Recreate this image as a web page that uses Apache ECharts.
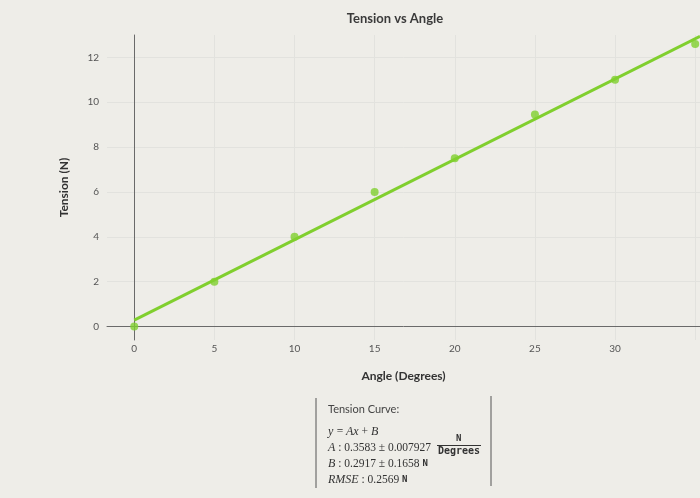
<!DOCTYPE html>
<html>
<head>
<meta charset="utf-8">
<script src="https://cdn.jsdelivr.net/npm/echarts@6/dist/echarts.min.js"></script>
<style>
  html, body { margin: 0; padding: 0; background: #eeede8; }
  #chart { width: 700px; height: 498px; }
</style>
</head>
<body>
<div id="chart"></div>
<script>
// measured points
var angles = [0, 5, 10, 15, 20, 25, 30, 35];
var tension = [0, 2.0, 4.0, 6.0, 7.5, 9.45, 11.0, 12.6];
// fitted line end points (y = Ax + B)
var fitAngles = [0, 35.3];
var fitTension = [0.29, 12.94];

var green = '#80cf2e';

function pairs(xs, ys) {
	var out = [];
	for (var i = 0; i < xs.length; i++) out.push([xs[i], ys[i]]);
	return out;
}

var myChart = echarts.init(document.getElementById('chart'));

var mathFont = '"Liberation Serif", serif';
var rich = {
	i: { fontFamily: mathFont, fontStyle: 'italic', fontSize: 12, fill: '#333' },
	n: { fontFamily: mathFont, fontSize: 11.5, fill: '#333' },
	u: { fontFamily: '"DejaVu Sans Mono", monospace', fontWeight: 'bold', fontSize: 9, fill: '#333' },
	d: { fontFamily: '"DejaVu Sans Mono", monospace', fontWeight: 'bold', fontSize: 10, fill: '#333' }
};

var option = {
	backgroundColor: '#eeede8',
	animation: false,
	title: {
		text: 'Tension vs Angle',
		left: 390,
		top: 7,
		textAlign: 'center',
		textStyle: { fontFamily: 'Lato', fontSize: 13, fontWeight: 'bold', color: '#3a3a3a' }
	},
	grid: { left: 107, right: 0, top: 35, bottom: 158 },
	xAxis: {
		type: 'value',
		min: -1.7,
		max: 35.3,
		splitNumber: 7,
		name: 'Angle (Degrees)',
		nameLocation: 'middle',
		nameGap: 30,
		nameTextStyle: { fontFamily: 'Lato', fontSize: 12, fontWeight: 'bold', color: '#333' },
		axisLine: { onZero: true, lineStyle: { color: '#6a6a6a', width: 1 } },
		axisTick: { show: false },
		axisLabel: {
			margin: 4, showMinLabel: false, showMaxLabel: false,
			fontFamily: 'Lato', fontSize: 10, color: '#555',
			formatter: function (v) { return v > 32 ? '' : v; }
		},
		splitLine: { show: true, showMinLine: false, showMaxLine: false, lineStyle: { color: '#e2e2de', width: 1 } }
	},
	yAxis: {
		type: 'value',
		min: -0.6,
		max: 13,
		splitNumber: 7,
		name: 'Tension (N)',
		nameLocation: 'middle',
		nameGap: 37,
		nameTextStyle: { fontFamily: 'Lato', fontSize: 12, fontWeight: 'bold', color: '#333' },
		axisLine: { show: true, onZero: true, lineStyle: { color: '#6a6a6a', width: 1 } },
		axisTick: { show: false },
		axisLabel: { margin: 8, showMinLabel: false, showMaxLabel: false, fontFamily: 'Lato', fontSize: 10, color: '#555' },
		splitLine: { show: true, showMinLine: false, showMaxLine: false, lineStyle: { color: '#e2e2de', width: 1 } }
	},
	series: [
		{
			name: 'fit',
			type: 'line',
			data: pairs(fitAngles, fitTension),
			showSymbol: false,
			lineStyle: { color: green, width: 3 },
			z: 2
		},
		{
			name: 'data',
			type: 'scatter',
			data: pairs(angles, tension),
			symbolSize: 8,
			itemStyle: { color: green },
			z: 3
		}
	],
	graphic: [
		{ type: 'line', shape: { x1: 316, y1: 398, x2: 316, y2: 488 }, style: { stroke: '#555', lineWidth: 1 } },
		{ type: 'line', shape: { x1: 491, y1: 396, x2: 491, y2: 486 }, style: { stroke: '#555', lineWidth: 1 } },
		{ type: 'text', left: 328, top: 404, style: { text: 'Tension Curve:', fontFamily: 'Lato', fontSize: 11, fill: '#444' } },
		{ type: 'text', left: 328, top: 426, style: { text: '{i|y} {n|= }{i|Ax}{n| + }{i|B}', rich: rich } },
		{ type: 'text', left: 328, top: 442, style: { text: '{i|A}{n| : 0.3583 ± 0.007927}', rich: rich } },
		{ type: 'text', left: 456, top: 434, style: { text: '{u|N}', rich: rich } },
		{ type: 'line', shape: { x1: 437, y1: 445.5, x2: 481, y2: 445.5 }, style: { stroke: '#333', lineWidth: 1 } },
		{ type: 'text', left: 438, top: 446, style: { text: '{d|Degrees}', rich: rich } },
		{ type: 'text', left: 328, top: 458, style: { text: '{i|B}{n| : 0.2917 ± 0.1658 }{u|N}', rich: rich } },
		{ type: 'text', left: 328, top: 474, style: { text: '{i|RMSE}{n| : 0.2569 }{u|N}', rich: rich } }
	]
};

myChart.setOption(option);
</script>
</body>
</html>
